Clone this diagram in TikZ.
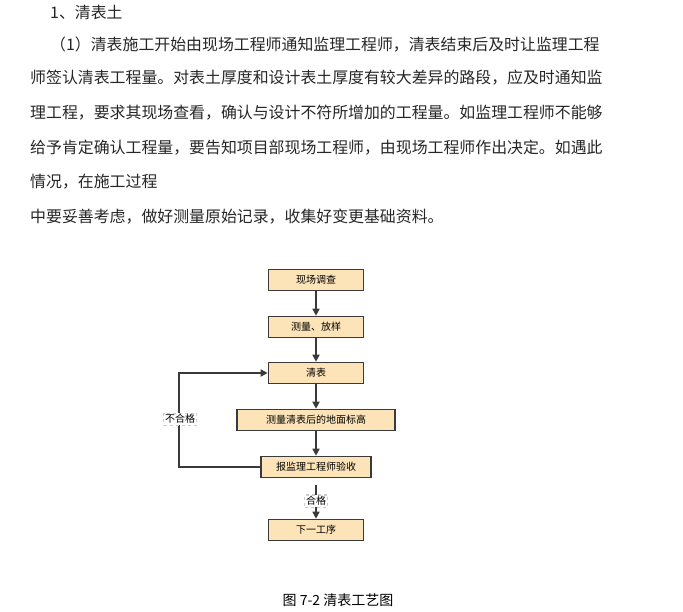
\documentclass[tikz,border=0pt]{standalone}
\usepackage{fontspec}
\newfontfamily\cjk{Noto Sans CJK SC}
\usetikzlibrary{arrows.meta}
\definecolor{boxfill}{HTML}{FCE4B8}
\definecolor{boxline}{HTML}{3A3A3A}
\tikzset{
 txt/.style={anchor=west,inner sep=0pt,font=\cjk\fontsize{15.9pt}{17pt}\selectfont,text=black!85},
 stepbox/.style={draw=boxline,line width=1.6pt,fill=boxfill,minimum height=21pt,inner sep=0pt,font=\cjk\fontsize{10pt}{11pt}\selectfont},
 arr/.style={draw=boxline,line width=1.6pt,-{Triangle[length=7pt,width=7pt]}},
 lbl/.style={fill=white,draw=gray!40,dashed,inner sep=1.5pt,font=\cjk\fontsize{10pt}{11pt}\selectfont}
}
\begin{document}
\begin{tikzpicture}[x=1pt,y=-1pt]
\useasboundingbox (0,0) rectangle (683,611);
\node[txt] (h) at (50,12) {1、清表土};
\node[txt] (l1) at (50,45) {（1）清表施工开始由现场工程师通知监理工程师，清表结束后及时让监理工程};
\node[txt] (l2) at (30,78) {师签认清表工程量。对表土厚度和设计表土厚度有较大差异的路段，应及时通知监};
\node[txt] (l3) at (30,113) {理工程，要求其现场查看，确认与设计不符所增加的工程量。如监理工程师不能够};
\node[txt] (l4) at (30,148) {给予肯定确认工程量，要告知项目部现场工程师，由现场工程师作出决定。如遇此};
\node[txt] (l5) at (30,182) {情况，在施工过程};
\node[txt] (l6) at (30,217) {中要妥善考虑，做好测量原始记录，收集好变更基础资料。};
\node[stepbox,minimum width=95pt] (b1) at (316,280) {现场调查};
\node[stepbox,minimum width=95pt] (b2) at (316,327) {测量、放样};
\node[stepbox,minimum width=95pt] (b3) at (316,373) {清表};
\node[stepbox,minimum width=158pt] (b4) at (316,420) {测量清表后的地面标高};
\node[stepbox,minimum width=110pt] (b5) at (316,467) {报监理工程师验收};
\node[stepbox,minimum width=95pt] (b6) at (316,530) {下一工序};
\coordinate (c5) at (316,485);
\coordinate (lt) at (179,373);
\coordinate (lb) at (179,467);
\draw[arr] (b1) -- (b2);
\draw[arr] (b2) -- (b3);
\draw[arr] (b3) -- (b4);
\draw[arr] (b4) -- (b5);
\draw[arr] (c5) -- (b6) node[lbl,pos=0.48] (q) {合格};
\draw[arr] (b5.west) -- (lb) -- (lt) -- (b3.west);
\node[lbl] (nq) at (180,419) {不合格};
\node[anchor=center,inner sep=0pt,font=\cjk\fontsize{14pt}{15pt}\selectfont] (cap) at (338,600) {图 7-2 清表工艺图};
\end{tikzpicture}
\end{document}
